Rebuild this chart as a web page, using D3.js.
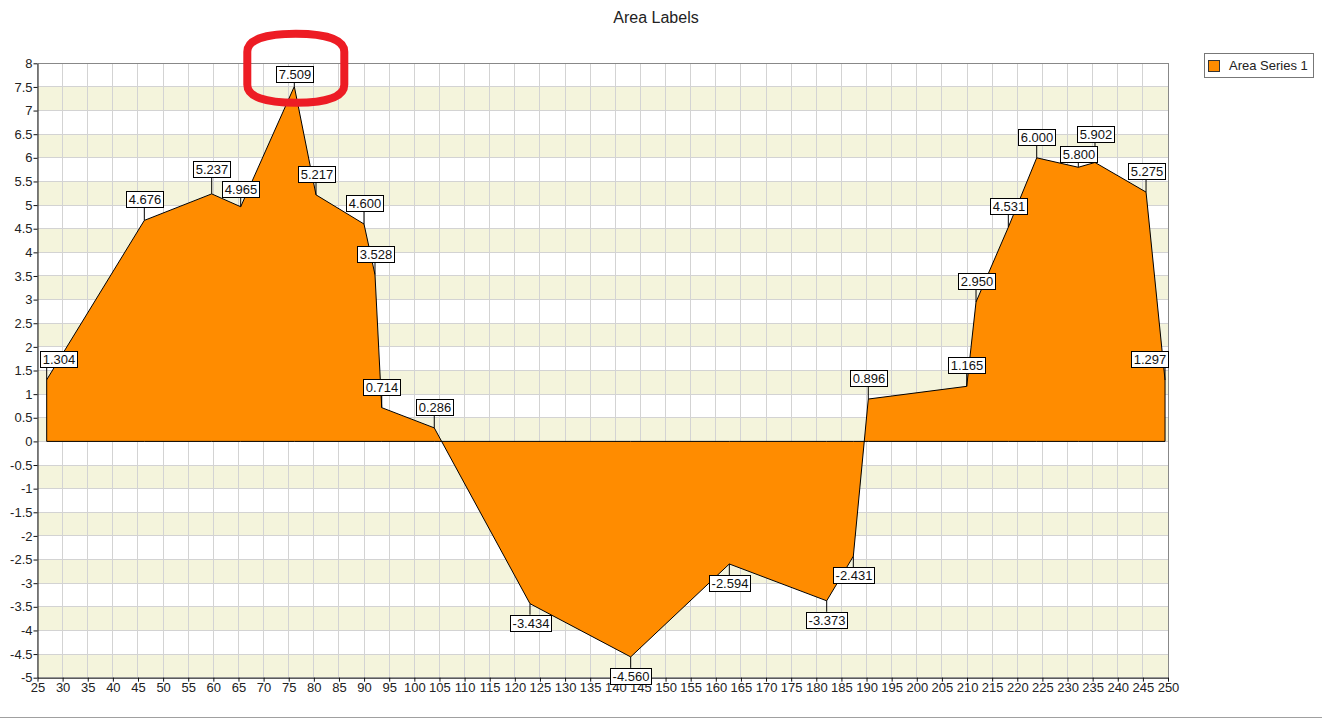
<!DOCTYPE html>
<html>
<head>
<meta charset="utf-8">
<script src="https://cdn.jsdelivr.net/npm/d3@7"></script>
<style>
	body { margin: 0; background-color: #fff; }
	svg { display: block; font-family: "Liberation Sans", Arial, sans-serif; }
</style>
</head>
<body>
<script>
// *** chart data
var chartTitle = "Area Labels";
var seriesName = "Area Series 1";
var xValues = [26.83, 46.26, 59.67, 65.44, 76.11, 80.43, 89.98, 92.17, 93.51, 103.97,
	123.02, 143.06, 162.69, 182.07, 187.37, 190.35, 209.94, 211.79, 218.22, 223.87,
	232.15, 235.47, 245.63, 249.41];
var yValues = [1.304, 4.676, 5.237, 4.965, 7.509, 5.217, 4.600, 3.528, 0.714, 0.286,
	-3.434, -4.560, -2.594, -3.373, -2.431, 0.896, 1.165, 2.950, 4.531, 6.000,
	5.800, 5.902, 5.275, 1.297];
var xTicks = d3.range(25, 251, 5);
var yTicks = d3.range(-10, 17).map(function(k){ return k / 2; });

var width = 1322, height = 719;
var plot = { left: 37.5, right: 1168, top: 63.3, bottom: 677.7 };
var orange = "#ff8c00";

var svg = d3.select("body").append("svg")
	.attr("width", width)
	.attr("height", height);

svg.append("rect").attr("width", width).attr("height", height).attr("fill", "#fff");

// *** scales
var xScale = d3.scaleLinear().domain([25, 250]).range([plot.left, plot.right]);
var yScale = d3.scaleLinear().domain([-5, 8]).range([plot.bottom, plot.top]);

// *** title
svg.append("text")
	.attr("x", 656)
	.attr("y", 23)
	.attr("text-anchor", "middle")
	.attr("font-size", "16px")
	.attr("fill", "#222")
	.text(chartTitle);

// *** striped background
svg.append("g").selectAll("rect")
	.data(yTicks.filter(function(t){ return Number.isInteger(t) && t < 8; }))
	.enter().append("rect")
	.attr("x", plot.left)
	.attr("width", plot.right - plot.left)
	.attr("y", function(d){ return yScale(d + 0.5); })
	.attr("height", function(d){ return yScale(d) - yScale(d + 0.5); })
	.attr("fill", "#f4f4dc");

// *** grid
var grid = svg.append("g")
	.attr("stroke", "#d3d3d3")
	.attr("stroke-width", 1)
	.attr("shape-rendering", "crispEdges");
grid.selectAll(".gx").data(xTicks).enter().append("line")
	.attr("x1", function(d){ return xScale(d); })
	.attr("x2", function(d){ return xScale(d); })
	.attr("y1", plot.top)
	.attr("y2", plot.bottom);
grid.selectAll(".gy").data(yTicks).enter().append("line")
	.attr("x1", plot.left)
	.attr("x2", plot.right)
	.attr("y1", function(d){ return yScale(d); })
	.attr("y2", function(d){ return yScale(d); });

// plot border (top / right)
svg.append("path")
	.attr("d", "M" + plot.left + "," + plot.top + "H" + plot.right + "V" + plot.bottom)
	.attr("fill", "none")
	.attr("stroke", "#888")
	.attr("shape-rendering", "crispEdges");

// *** area
var points = xValues.map(function(x, i){ return { x: x, y: yValues[i] }; });
var area = d3.area()
	.x(function(d){ return xScale(d.x); })
	.y0(yScale(0))
	.y1(function(d){ return yScale(d.y); });

svg.append("path")
	.datum(points)
	.attr("d", function(d){ return area(d) ; })
	.attr("fill", orange)
	.attr("stroke", "#000")
	.attr("stroke-width", 1)
	.attr("stroke-linejoin", "miter");

// *** axes
var yAxis = d3.axisLeft(yScale)
	.tickValues(yTicks)
	.tickSize(4)
	.tickSizeOuter(0)
	.tickPadding(1)
	.tickFormat(function(d){ return String(d); });
var xAxis = d3.axisBottom(xScale)
	.tickValues(xTicks)
	.tickSize(4)
	.tickSizeOuter(0)
	.tickPadding(1)
	.tickFormat(function(d){ return String(d); });

var gy = svg.append("g")
	.attr("transform", "translate(" + plot.left + ",0)")
	.call(yAxis);
var gx = svg.append("g")
	.attr("transform", "translate(0," + plot.bottom + ")")
	.call(xAxis);
[gx, gy].forEach(function(g){
	g.attr("font-family", null).attr("font-size", null);
	g.selectAll("text").attr("font-size", "13px").attr("fill", "#222");
	g.selectAll("line").attr("stroke", "#111");
	g.select(".domain").attr("stroke", "#111");
});

// *** point labels
var labelLayer = svg.append("g");
var measure = labelLayer.append("text").attr("font-size", "13px");
var labels = points.map(function(p){
	var txt = p.y.toFixed(3);
	measure.text(txt);
	var w = measure.node().getComputedTextLength() + 4, h = 16;
	var px = xScale(p.x), py = yScale(p.y);
	var bx = Math.max(plot.left + 2, Math.min(plot.right - w, px - w / 2));
	var by = p.y >= 0 ? py - 13 - h : py + 11;
	by = Math.max(plot.top + 3, by);
	return { txt: txt, w: w, h: h, px: px, py: py, bx: bx, by: by, up: p.y >= 0 };
});
measure.remove();

// spread overlapping labels apart vertically
for (var it = 0; it < 10; it++) {
	for (var i = 0; i < labels.length; i++) {
		for (var j = i + 1; j < labels.length; j++) {
			var a = labels[i], b = labels[j];
			if (a.bx + a.w <= b.bx || b.bx + b.w <= a.bx) continue;
			var upper = a.by <= b.by ? a : b, lower = upper === a ? b : a;
			var need = upper.by + upper.h + 4 - lower.by;
			if (need > 0 && need < 30) {
				upper.by -= need / 2;
				lower.by += need / 2;
			}
		}
	}
}

labelLayer.selectAll(".leader").data(labels).enter().append("line")
	.attr("x1", function(d){ return d.px; })
	.attr("x2", function(d){ return d.px; })
	.attr("y1", function(d){ return d.up ? d.by + d.h : d.by; })
	.attr("y2", function(d){ return d.py; })
	.attr("stroke", "#000");

labelLayer.selectAll(".box").data(labels).enter().append("rect")
	.attr("x", function(d){ return Math.round(d.bx) + 0.5; })
	.attr("y", function(d){ return Math.round(d.by) + 0.5; })
	.attr("width", function(d){ return Math.round(d.w); })
	.attr("height", function(d){ return d.h; })
	.attr("fill", "#fff")
	.attr("stroke", "#000");

labelLayer.selectAll(".lbl").data(labels).enter().append("text")
	.attr("x", function(d){ return Math.round(d.bx) + 0.5 + Math.round(d.w) / 2; })
	.attr("y", function(d){ return Math.round(d.by) + 13; })
	.attr("text-anchor", "middle")
	.attr("font-size", "13px")
	.attr("fill", "#111")
	.text(function(d){ return d.txt; });

// *** red highlight round the peak label
var peak = labels[d3.maxIndex(yValues)];
var cx = peak.bx + peak.w / 2 + 1.5, cy = peak.by + peak.h / 2 - 6;
var hw = 48.5, hh = 34.5;
svg.append("path")
	.attr("d", "M" + (cx - hw) + "," + (cy - hh + 18) +
		"C" + (cx - hw) + "," + (cy - hh + 6) + " " + (cx - 31) + "," + (cy - hh) + " " + cx + "," + (cy - hh) +
		"C" + (cx + 31) + "," + (cy - hh) + " " + (cx + hw) + "," + (cy - hh + 6) + " " + (cx + hw) + "," + (cy - hh + 18) +
		"L" + (cx + hw) + "," + (cy + hh - 18) +
		"C" + (cx + hw) + "," + (cy + hh - 6) + " " + (cx + 31) + "," + (cy + hh) + " " + cx + "," + (cy + hh) +
		"C" + (cx - 31) + "," + (cy + hh) + " " + (cx - hw) + "," + (cy + hh - 6) + " " + (cx - hw) + "," + (cy + hh - 18) + "Z")
	.attr("fill", "none")
	.attr("stroke", "#ed1c24")
	.attr("stroke-width", 8);

// *** legend
var legend = svg.append("g");
legend.append("rect")
	.attr("x", 1204.5).attr("y", 53.5)
	.attr("width", 109).attr("height", 24)
	.attr("fill", "#fff")
	.attr("stroke", "#777");
legend.append("rect")
	.attr("x", 1208.5).attr("y", 60.5)
	.attr("width", 11).attr("height", 11)
	.attr("fill", orange)
	.attr("stroke", "#333");
legend.append("text")
	.attr("x", 1229).attr("y", 70)
	.attr("font-size", "13px")
	.attr("fill", "#222")
	.text(seriesName);

// bottom rule
svg.append("line")
	.attr("x1", 0).attr("x2", width)
	.attr("y1", 717.5).attr("y2", 717.5)
	.attr("stroke", "#a0a0a0");
</script>
</body>
</html>
